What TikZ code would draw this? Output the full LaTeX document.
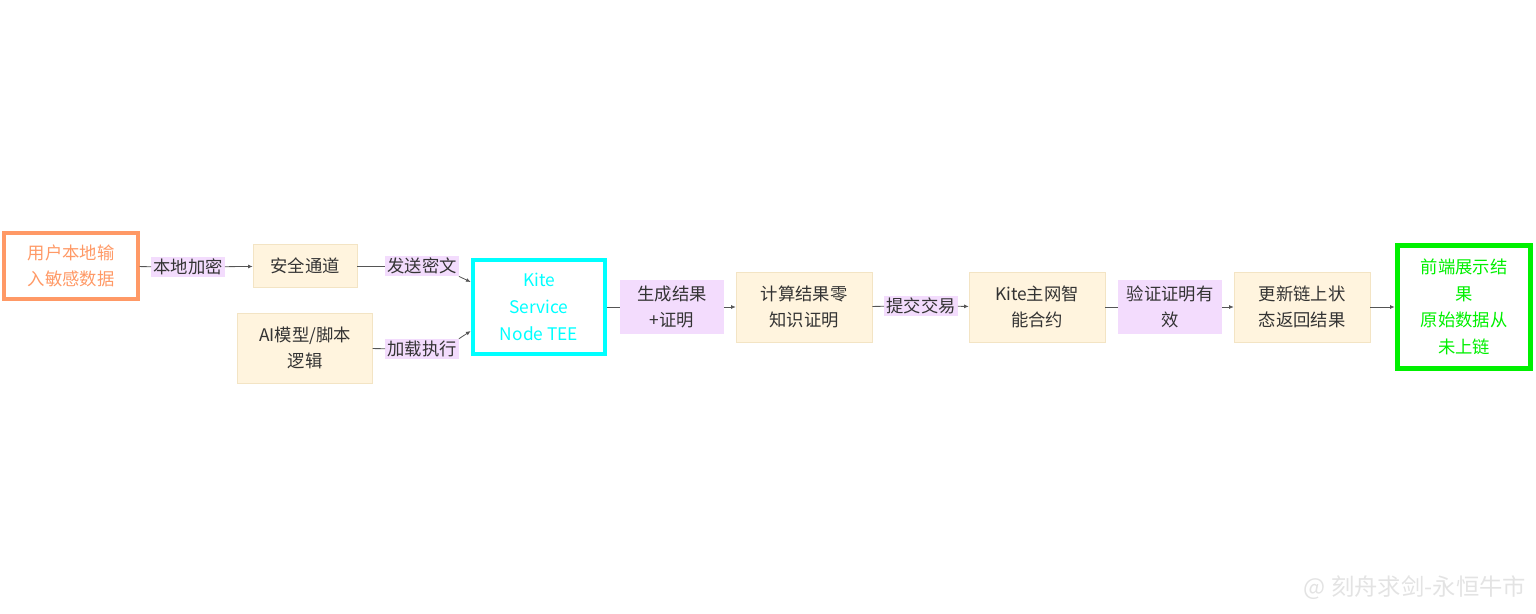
\documentclass[tikz,border=0pt]{standalone}
\usepackage{fontspec}
\usepackage{tikz}
\usetikzlibrary{arrows.meta,positioning}
\newfontfamily\cjk{Noto Sans CJK SC}
\definecolor{cream}{RGB}{255,244,222}
\definecolor{creamline}{RGB}{243,228,196}
\definecolor{lilac}{RGB}{243,220,253}
\definecolor{inkgray}{RGB}{51,51,51}
\definecolor{userorange}{RGB}{255,153,102}
\definecolor{teecyan}{RGB}{0,255,255}
\definecolor{okgreen}{RGB}{0,240,0}
\definecolor{edgegray}{RGB}{85,85,85}

\begin{document}
\begin{tikzpicture}[x=0.75pt,y=-0.75pt,font=\cjk\fontsize{13}{20}\selectfont,
      bx/.style={draw=creamline,fill=cream,text=inkgray,minimum width=102pt,minimum height=52.5pt,align=center,inner sep=2pt},
      lb/.style={fill=lilac,text=inkgray,inner sep=1.5pt,align=center},
      ln/.style={edgegray,line width=0.6pt},
      ar/.style={ln,-{Latex[length=3.5pt,width=3pt]}}]
    \useasboundingbox (0,0) rectangle (1536,614);
    \node[draw=userorange,line width=3pt,text=userorange,minimum width=100pt,minimum height=50pt,align=center] (user) at (71,266) {用户本地输\\入敏感数据};
    \node[lb] (encl) at (188,267) {本地加密};
    \node[bx,minimum width=78pt,minimum height=32pt] (chan) at (305,266) {安全通道};
    \node[lb] (sendl) at (422,266) {发送密文};
    \node[bx,minimum width=101pt] (model) at (305,348) {AI模型/脚本\\逻辑};
    \node[lb] (loadl) at (422,349) {加载执行};
    \node[draw=teecyan,line width=3.5pt,text=teecyan,minimum width=99pt,minimum height=70.5pt,align=center] (tee) at (539,307) {Kite\\Service\\Node TEE};
    \node[lb,minimum width=78pt,minimum height=40.5pt] (genl) at (672,307) {生成结果\\+证明};
    \node[bx] (zkp) at (804,307) {计算结果零\\知识证明};
    \node[lb] (txl) at (921,306) {提交交易};
    \node[bx] (contract) at (1037,307) {Kite主网智\\能合约};
    \node[lb,minimum width=78pt,minimum height=40.5pt] (verl) at (1170,307) {验证证明有\\效};
    \node[bx] (update) at (1302,307) {更新链上状\\态返回结果};
    \node[draw=okgreen,line width=4pt,text=okgreen,minimum width=100pt,minimum height=92pt,align=center] (front) at (1464,307) {前端展示结\\果\\原始数据从\\未上链};
    \draw[ln] (user) -- (encl); \draw[ar] (encl) -- (chan);
    \draw[ln] (chan) -- (sendl); \draw[ar] (sendl.south east) -- ([yshift=18.75pt]tee.west);
    \draw[ln] (model) -- (loadl); \draw[ar] (loadl.north east) -- ([yshift=-18pt]tee.west);
    \draw[ln] (tee) -- (genl); \draw[ar] (genl) -- (zkp);
    \draw[ln] (zkp) -- (txl); \draw[ar] (txl) -- (contract);
    \draw[ln] (contract) -- (verl); \draw[ar] (verl) -- (update);
    \draw[ar] (update) -- (front);
    \node[text=black!11,font=\cjk\fontsize{17.5}{20}\selectfont] (mark) at (1415,588) {@ 刻舟求剑-永恒牛市};
  \end{tikzpicture}
\end{document}
